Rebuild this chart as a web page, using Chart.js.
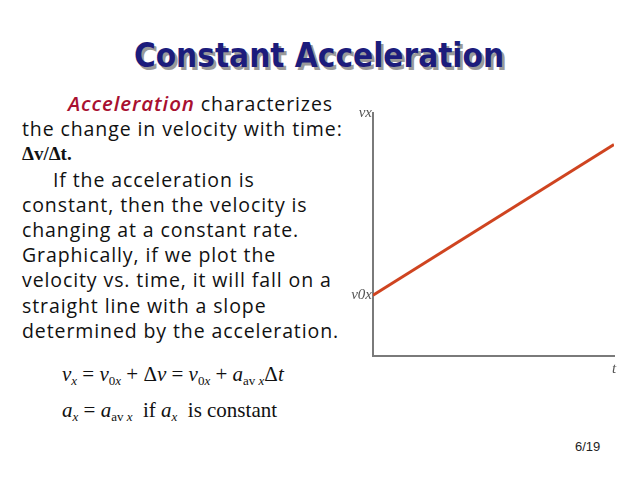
<!DOCTYPE html>
<html>
<head>
<meta charset="utf-8">
<script src="https://cdn.jsdelivr.net/npm/chart.js@4/dist/chart.umd.min.js"></script>
<style>
  html, body { margin: 0; padding: 0; background: #fff; }
  body { width: 638px; height: 479px; position: relative; overflow: hidden; }
  .title {
    position: absolute; left: 0; width: 638px; top: 36px; text-align: center;
    font-family: "DejaVu Sans", sans-serif; font-weight: bold; font-size: 33px; line-height: 40px;
    color: #1c1c7c; text-shadow: 3px 3px 0 #9a9a9a;
    transform: scaleX(0.9); transform-origin: 319px 0;
  }
  .body {
    position: absolute; left: 22px; top: 91px; width: 360px;
    font-family: "Open Sans", sans-serif; font-size: 19.5px; line-height: 25.2px; color: #111;
    letter-spacing: 0.9px;
  }
  .body div { white-space: nowrap; }
  .red { color: #a81030; font-style: italic; font-weight: 600; font-size: 20.5px; letter-spacing: 0.9px; }
  .delta { font-family: "Liberation Serif", serif; font-weight: bold; font-size: 19px; letter-spacing: 0; }
  .eq {
    position: absolute; left: 62px; font-family: "Liberation Serif", serif; font-size: 21px; color: #111;
    white-space: nowrap;
  }
  .eq i { font-style: italic; }
  .eq sub { font-size: 13px; vertical-align: -4px; }
  .page { position: absolute; left: 575px; top: 439px; font-family: "Liberation Sans", sans-serif; font-size: 13px; color: #222; }
  #wrap { position: absolute; left: 340px; top: 100px; width: 290px; height: 290px; }
</style>
</head>
<body>
<div class="title">Constant Acceleration</div>
<div class="body">
  <div style="padding-left:46px"><span class="red">Acceleration</span> characterizes</div>
  <div>the change in velocity with time:</div>
  <div class="delta">&Delta;v/&Delta;t.</div>
  <div style="padding-left:31px">If the acceleration is</div>
  <div>constant, then the velocity is</div>
  <div>changing at a constant rate.</div>
  <div>Graphically, if we plot the</div>
  <div>velocity vs. time, it will fall on a</div>
  <div>straight line with a slope</div>
  <div>determined by the acceleration.</div>
</div>
<div class="eq" style="top:362px"><i>v<sub>x</sub></i> = <i>v</i><sub>0<i>x</i></sub> + &Delta;<i>v</i> = <i>v</i><sub>0<i>x</i></sub> + <i>a</i><sub>av <i>x</i></sub>&Delta;<i>t</i></div>
<div class="eq" style="top:398px"><i>a<sub>x</sub></i> = <i>a</i><sub>av <i>x</i></sub> &nbsp;if <i>a<sub>x</sub></i> &nbsp;is constant</div>
<div class="page">6/19</div>
<div id="wrap"><canvas id="chart"></canvas></div>
<script>
// data for the v-t line
let times = [0, 10];
let velocities = [2.5, 8.7];
let yTicks = [2.5, 10]; // where the v0x and vx labels sit
let yTickLabels = ["v0x", "vx"];
let xTickLabels = { 10: "t" };

let axisGray = "#7a7a7a";
let labelFont = { family: "'Liberation Serif', 'DejaVu Serif', serif", style: "italic", size: 15 };

const config = {
  type: "line",
  data: {
    datasets: [
      {
        data: times.map((t, i) => ({ x: t, y: velocities[i] })),
        borderColor: "#cf4420",
        borderWidth: 3,
        pointRadius: 0,
        tension: 0,
      },
    ],
  },
  options: {
    responsive: false,
    animation: false,
    layout: { padding: { top: 13, right: 16, left: 0, bottom: 0 } },
    plugins: { legend: { display: false }, tooltip: { enabled: false } },
    scales: {
      x: {
        type: "linear",
        min: 0,
        max: 10,
        grid: { display: false, drawTicks: false },
        border: { display: true, color: axisGray, width: 2 },
        afterBuildTicks: (s) => { s.ticks = [{ value: 10 }]; },
        afterFit: (s) => { s.height = 34; },
        ticks: {
          padding: 4,
          color: "#555",
          font: labelFont,
          callback: (v) => xTickLabels[v] || "",
          maxRotation: 0,
          autoSkip: false,
        },
      },
      y: {
        min: 0,
        max: 10,
        grid: { display: false, drawTicks: false },
        border: { display: true, color: axisGray, width: 2 },
        afterBuildTicks: (s) => { s.ticks = yTicks.map((v) => ({ value: v })); },
        afterFit: (s) => { s.width = 33; },
        ticks: {
          padding: 1,
          color: "#555",
          font: labelFont,
          autoSkip: false,
          callback: (v) => yTickLabels[yTicks.indexOf(v)],
        },
      },
    },
  },
};

const ctx = document.getElementById("chart");
ctx.width = 290;
ctx.height = 290;
new Chart(ctx, config);
</script>
</body>
</html>
